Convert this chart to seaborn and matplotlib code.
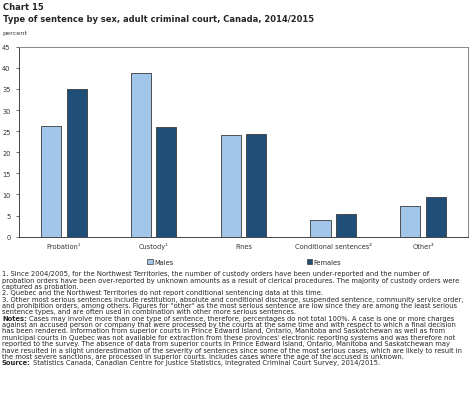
import matplotlib
matplotlib.use("Agg")
import matplotlib.pyplot as plt
import pandas as pd
import seaborn as sns

categories = ["Probation\u00b9", "Custody\u00b9", "Fines", "Conditional sentences\u00b2", "Other\u00b3"]
males = [26.2, 38.8, 24.0, 3.9, 7.3]
females = [35.0, 26.0, 24.4, 5.3, 9.3]
series = ["Males", "Females"]
yticks = [0, 5, 10, 15, 20, 25, 30, 35, 40, 45]

footnotes = [
    "1. Since 2004/2005, for the Northwest Territories, the number of custody orders have been under-reported and the number of",
    "probation orders have been over-reported by unknown amounts as a result of clerical procedures. The majority of custody orders were",
    "captured as probation.",
    "2. Quebec and the Northwest Territories do not report conditional sentencing data at this time.",
    "3. Other most serious sentences include restitution, absolute and conditional discharge, suspended sentence, community service order,",
    "and prohibition orders, among others. Figures for \"other\" as the most serious sentence are low since they are among the least serious",
    "sentence types, and are often used in combination with other more serious sentences.",
]
notes = [
    "Cases may involve more than one type of sentence, therefore, percentages do not total 100%. A case is one or more charges",
    "against an accused person or company that were processed by the courts at the same time and with respect to which a final decision",
    "has been rendered. Information from superior courts in Prince Edward Island, Ontario, Manitoba and Saskatchewan as well as from",
    "municipal courts in Quebec was not available for extraction from these provinces' electronic reporting systems and was therefore not",
    "reported to the survey. The absence of data from superior courts in Prince Edward Island, Ontario, Manitoba and Saskatchewan may",
    "have resulted in a slight underestimation of the severity of sentences since some of the most serious cases, which are likely to result in",
    "the most severe sanctions, are processed in superior courts. Includes cases where the age of the accused is unknown.",
]
source = "Statistics Canada, Canadian Centre for Justice Statistics, Integrated Criminal Court Survey, 2014/2015."

df = pd.DataFrame({
    "Sentence": categories * 2,
    "Sex": [series[0]] * len(categories) + [series[1]] * len(categories),
    "Percent": males + females,
})

sns.set_style("white")
plt.rcParams["font.family"] = ["DejaVu Sans"]

colors = ["#A2C6E9", "#1F4E79"]

fig = plt.figure(figsize=(4.74, 4.02), dpi=100)
ax = fig.add_axes([0.040, 0.4087, 0.947, 0.4726])

sns.barplot(
    data=df, x="Sentence", y="Percent", hue="Sex", order=categories,
    hue_order=series, palette=colors, saturation=1, width=0.565, gap=0.21,
    edgecolor="#3a3a3a", linewidth=0.6, ax=ax, legend=False,
)

ax.set_ylim(0, 45)
ax.set_yticks(yticks)
ax.set_xlabel("")
ax.set_ylabel("")
ax.tick_params(axis="y", labelsize=4.8, length=2, width=0.5, pad=4, colors="#333333", direction="out", left=True)
ax.tick_params(axis="x", labelsize=4.8, length=0, pad=8, colors="#333333")
for lab in ax.get_xticklabels():
    lab.set_verticalalignment("baseline")
for side in ["top", "right"]:
    ax.spines[side].set_color("#888888")
    ax.spines[side].set_linewidth(0.7)
for side in ["left", "bottom"]:
    ax.spines[side].set_color("#444444")
    ax.spines[side].set_linewidth(0.7)

handles = [plt.Rectangle((0, 0), 1, 1, facecolor=c, edgecolor="#3a3a3a", linewidth=0.5) for c in colors]
fig.legend(handles, series, loc="center", bbox_to_anchor=(0.515, 1 - 263 / 402), ncol=2,
           frameon=False, fontsize=4.8, handlelength=0.8, handleheight=0.8,
           handletextpad=0.2, columnspacing=20)

fig.text(0.006, 1 - 8 / 402, "Chart 15", fontsize=6.0, fontweight="bold", va="center")
fig.text(0.006, 1 - 20 / 402, "Type of sentence by sex, adult criminal court, Canada, 2014/2015",
         fontsize=6.0, fontweight="bold", va="center")
fig.text(0.006, 1 - 34 / 402, "percent", fontsize=4.6, va="center", color="#333333")

fs = 4.85
renderer = fig.canvas.get_renderer()


def bold_lead(y, lead, rest):
    t = fig.text(0.004, 1 - y / 402, lead, fontsize=fs, va="center", fontweight="bold")
    w = t.get_window_extent(renderer).width / fig.bbox.width
    fig.text(0.004 + w + 0.004, 1 - y / 402, rest, fontsize=fs, va="center")


y = 274.3
step = 6.35
for line in footnotes:
    fig.text(0.004, 1 - y / 402, line, fontsize=fs, va="center")
    y += step
for i, line in enumerate(notes):
    if i == 0:
        bold_lead(y, "Notes:", line)
    else:
        fig.text(0.004, 1 - y / 402, line, fontsize=fs, va="center")
    y += step
bold_lead(y, "Source:", source)

fig.savefig("out.png", dpi=100)
